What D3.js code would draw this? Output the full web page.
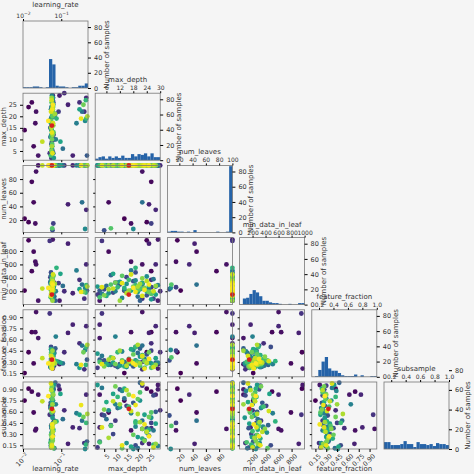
<!DOCTYPE html>
<html><head><meta charset="utf-8">
<script src="https://cdn.jsdelivr.net/npm/d3@7"></script>
<style>
body{margin:0;background:#f5f5f5}
text{font-family:"DejaVu Sans",sans-serif;fill:#333}
</style></head>
<body><svg id="chart" width="474" height="474"></svg>
<script>
const names = ['learning_rate','max_depth','num_leaves','min_data_in_leaf','feature_fraction','subsample']

const learningRate = [0.011,0.014,0.017,0.019,0.021,0.022,0.025,0.06,0.09,0.15,0.2,0.45,0.12,0.3,0.4,0.05,0.065,
0.055,0.085,0.062,0.052,0.057,0.060,0.054,0.059,0.063,0.056,
0.053,0.47,0.061,0.070,0.055,0.057,0.060,0.052,0.066,0.11,
0.35,0.056,0.059,0.062,0.054,0.25,0.072,0.057,0.060,0.055,
0.42,0.058,0.056,0.061,0.053,0.059,0.064,0.057,0.055,0.060,
0.30,0.095,0.054,0.062,0.057,0.059,0.056,0.075,0.44,0.055,
0.45,0.061,0.057,0.053,0.060,0.058,0.056,0.063,0.059,0.054,
0.38,0.057,0.060,0.055,0.058,0.062,0.056,0.059,0.068,0.057,
0.48,0.055,0.060,0.032,0.056,0.061,0.054,0.059,0.057,0.33,
0.058,0.060,0.046]
const maxDepth = [14,24,26,7,17,22,3,29,29,25,3,28,30,26,22,4,10,
2,22,26,15,9,27,19,5,12,24,
18,3,28,21,8,16,25,11,20,6,
22,14,27,4,23,17,10,29,13,19,
18,7,24,21,15,26,2,20,12,28,
23,9,17,25,6,22,14,19,27,11,
19,24,16,3,21,8,26,13,20,18,
25,10,23,5,22,16,28,12,21,7,
20,15,24,9,27,17,22,4,13,19,
23,25,18]
const numLeaves = [22,17,76,46,15,91,100,100,100,43,100,35,100,100,100,100,100,
100,100,15,100,100,100,100,5,100,100,
100,100,100,100,100,100,100,100,100,100,
46,100,100,100,100,100,100,100,100,100,
7,100,100,100,100,100,100,100,100,100,
100,100,100,100,100,100,100,100,100,100,
100,100,100,100,100,8,100,100,100,100,
100,100,100,100,100,100,100,100,100,100,
100,100,100,100,100,100,100,100,100,100,
100,100,100]
const minDataInLeaf = [210,960,500,790,640,600,60,970,60,910,170,600,200,370,90,950,330,
150,320,260,410,180,90,480,230,300,140,
350,210,270,60,440,150,250,330,120,280,
300,220,380,160,240,510,200,290,100,360,
250,170,420,230,310,80,270,190,340,150,
230,460,210,280,130,320,250,550,180,260,
290,200,370,110,240,300,160,430,220,270,
190,330,250,140,390,210,280,60,310,230,
270,170,350,240,200,450,130,260,320,190,
220,300,250]
const featureFraction = [0.15,0.43,0.70,0.28,0.70,0.97,0.62,0.21,0.27,0.69,0.80,0.78,0.43,0.55,0.20,0.95,0.25,
0.22,0.30,0.45,0.28,0.35,0.25,0.50,0.32,0.27,0.40,
0.24,0.33,0.29,0.48,0.26,0.33,0.31,0.23,0.42,0.28,
0.52,0.30,0.25,0.38,0.34,0.27,0.64,0.29,0.44,0.32,
0.46,0.26,0.31,0.37,0.23,0.28,0.41,0.30,0.25,0.35,
0.22,0.29,0.47,0.33,0.27,0.39,0.24,0.31,0.26,0.43,
0.50,0.28,0.34,0.30,0.25,0.36,0.22,0.32,0.29,0.40,
0.43,0.27,0.31,0.24,0.37,0.30,0.26,0.45,0.28,0.33,
0.53,0.25,0.29,0.35,0.23,0.31,0.38,0.27,0.30,0.26,
0.21,0.34,0.28]
const subsample = [0.75,0.91,0.87,0.59,0.35,0.37,0.83,0.96,0.90,0.17,0.39,0.83,0.62,0.38,0.18,0.56,0.48,
0.12,0.95,0.45,0.68,0.30,0.82,0.15,0.55,0.90,0.38,
0.72,0.20,0.60,0.99,0.42,0.64,0.28,0.65,0.11,0.50,
0.48,0.78,0.35,0.92,0.22,0.58,0.70,0.14,0.88,0.40,
0.10,0.62,0.32,0.75,0.18,0.52,0.96,0.26,0.66,0.44,
0.56,0.84,0.13,0.36,0.73,0.24,0.91,0.47,0.16,0.80,
0.45,0.34,0.67,0.19,0.86,0.41,0.59,0.11,0.77,0.29,
0.53,0.94,0.21,0.63,0.37,0.83,0.17,0.70,0.46,0.25,
0.57,0.89,0.33,0.74,0.12,0.61,0.98,0.39,0.15,0.69,
0.43,0.27,0.81]
const bestIndex = 32

const domains = [[0.01,0.5],[1,30],[2,100],[1,1000],[0.1,1.0],[0.1,1.0]]
const topTicks = [[0.01,0.1],[6,12,18,24,30],[20,40,60,80,100],[200,400,600,800,1000],[0.2,0.4,0.6,0.8,1.0],[0.2,0.4,0.6,0.8,1.0]]
const gridTicks = [[0.01,0.1],[5,10,15,20,25],[20,40,60,80],[200,400,600,800],[0.15,0.30,0.45,0.60,0.75,0.90],[0.15,0.30,0.45,0.60,0.75,0.90]]
const countTicks = [0,20,40,60,80]
const countMax = [88,88,88,88,88,68]

const cols = [learningRate,maxDepth,numLeaves,minDataInLeaf,featureFraction,subsample]
const n = learningRate.length
const svg = d3.select('#chart')
const W = 65, H = 67, X0 = 23, Y0 = 21, STEP = 72.2

function scaleFor(k) {
  const s = k === 0 ? d3.scaleLog() : d3.scaleLinear()
  return s.domain(domains[k]).range([0, W])
}
function fmt(k, v, grid) {
  if (k === 0) return ''
  if (k >= 4) return grid ? v.toFixed(2) : v.toFixed(1)
  return String(v)
}
function logLabel(sel, v) {
  const e = Math.round(Math.log10(v))
  sel.text('10').append('tspan').attr('dy', -3).style('font-size', '4.5px').text('\u2212' + Math.abs(e))
}
function frame(g, w, h) {
  g.append('rect').attr('width', w).attr('height', h).attr('fill', 'none').attr('stroke', '#777').attr('stroke-width', 0.8)
}
const color = i => d3.interpolateViridis(i / (n - 1))

for (let i = 0; i < 6; i++) {
  for (let j = 0; j <= i; j++) {
    const g = svg.append('g').attr('transform', `translate(${X0 + j * STEP},${Y0 + i * STEP})`)
    const xs = scaleFor(j)
    if (i === j) {
      // histogram
      const lo = domains[j][0], hi = domains[j][1]
      const tf = j === 0 ? d3.range(21).map(t => Math.pow(10, Math.log10(lo) + t * (Math.log10(hi) - Math.log10(lo)) / 20))
                         : d3.range(21).map(t => lo + t * (hi - lo) / 20)
      const bins = d3.bin().domain([lo, hi]).thresholds(tf.slice(1, -1))(cols[j])
      const ys = d3.scaleLinear().domain([0, countMax[j]]).range([H, 0])
      g.selectAll('rect.bar').data(bins).enter().append('rect')
        .attr('x', d => xs(d.x0)).attr('width', d => Math.max(0, xs(d.x1) - xs(d.x0)))
        .attr('y', d => ys(d.length)).attr('height', d => H - ys(d.length))
        .attr('fill', '#2563a8')
      frame(g, W, H)
      const ya = g.append('g').attr('transform', `translate(${W},0)`)
        .call(d3.axisRight(ys).tickValues(countTicks).tickSize(3).tickFormat(d3.format('d')))
      ya.selectAll('text').style('font-size', '6.5px')
      ya.select('.domain').remove()
      g.append('text').attr('transform', `translate(${W + 21},${H / 2}) rotate(-90)`)
        .attr('text-anchor', 'middle').style('font-size', '7px').text('Number of samples')
      const xa = g.append('g').call(d3.axisTop(xs).tickValues(topTicks[j]).tickSize(2).tickPadding(1).tickFormat(v => fmt(j, v, false)))
      xa.select('.domain').remove()
      xa.selectAll('text').style('font-size', '6px')
      if (j === 0) xa.selectAll('text').each(function (v) { logLabel(d3.select(this), v) })
      g.append('text').attr('x', W / 2).attr('y', j === 0 ? -14 : -11).attr('text-anchor', 'middle').style('font-size', '7px').text(names[j])
      if (j < 5) g.append('g').attr('transform', `translate(0,${H})`).call(d3.axisBottom(xs).tickValues(gridTicks[j]).tickSize(0).tickFormat('')).select('.domain').remove()
    } else {
      const ys = (i === 0 ? d3.scaleLog() : d3.scaleLinear()).domain(domains[i]).range([H, 0])
      const order = d3.range(n).filter(k => k !== bestIndex)
      g.selectAll('circle').data(order).enter().append('circle')
        .attr('cx', k => xs(cols[j][k])).attr('cy', k => ys(cols[i][k])).attr('r', 2.4).attr('fill', k => color(k))
      g.append('circle').attr('cx', xs(cols[j][bestIndex])).attr('cy', ys(cols[i][bestIndex])).attr('r', 2.4).attr('fill', '#d62020')
      frame(g, W, H)
      const ya = g.append('g').call(d3.axisLeft(ys).tickValues(gridTicks[i]).tickSize(j === 0 ? 3 : 2).tickFormat(j === 0 ? (v => fmt(i, v, true)) : ''))
      ya.select('.domain').remove()
      ya.selectAll('text').style('font-size', '6.5px')
      const xa = g.append('g').attr('transform', `translate(0,${H})`)
        .call(d3.axisBottom(xs).tickValues(gridTicks[j]).tickSize(i === 5 ? 3 : 2).tickFormat(i === 5 ? (v => fmt(j, v, true)) : ''))
      xa.select('.domain').remove()
      if (i === 5) {
        xa.selectAll('text').style('font-size', '6.5px').attr('text-anchor', 'end')
          .attr('transform', 'rotate(-45)').attr('dx', '-0.2em').attr('dy', '0.5em')
        if (j === 0) xa.selectAll('text').each(function (v) { logLabel(d3.select(this), v) })
        g.append('text').attr('x', W / 2).attr('y', H + 22).attr('text-anchor', 'middle').style('font-size', '7px').text(names[j])
      }
      if (j === 0) {
        g.append('text').attr('transform', `translate(-17,${H / 2}) rotate(-90)`)
          .attr('text-anchor', 'middle').style('font-size', '7px').text(names[i])
      }
    }
  }
}
</script></body></html>
